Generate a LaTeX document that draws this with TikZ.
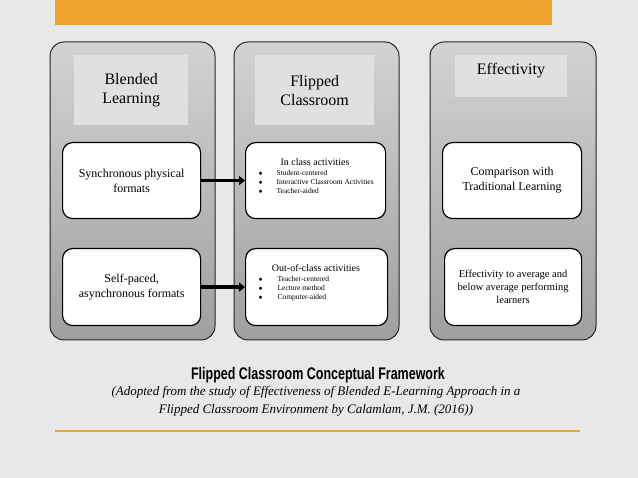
\documentclass[tikz,border=0pt]{standalone}
\usepackage{fontspec}
\setmainfont{Liberation Serif}
\newfontfamily\titlefont{Liberation Sans}
\newfontfamily\serfont{Liberation Serif}
\usetikzlibrary{arrows.meta}
\definecolor{orng}{HTML}{F0A22E}
\definecolor{bgc}{HTML}{E8E8E8}
\tikzset{
 col/.style={draw=black!85,line width=1pt,rounded corners=14pt,top color=gray!35,bottom color=gray!75,inner sep=0},
 hdr/.style={fill=black!12,draw=none,inner sep=0,align=center,font=\serfont\fontsize{16}{19}\selectfont},
 wbox/.style={draw=black,line width=1.2pt,fill=white,rounded corners=10pt,align=center,inner sep=0},
 arr/.style={-{Triangle[length=6pt,width=9pt]},line width=3.5pt,shorten >=0pt}
}
\begin{document}
\begin{tikzpicture}[x=1pt,y=-1pt]
\useasboundingbox (0,0) rectangle (638,478);
\fill[bgc] (0,0) rectangle (638,478);
\fill[orng] (55,0) rectangle (552,25);
% columns
\draw[col] (50,42) rectangle (215,340);
\draw[col] (234,42) rectangle (399,340);
\draw[col] (430,42) rectangle (596,340);
% headers
\node[hdr,minimum width=114pt,minimum height=70pt,anchor=north west] (h1) at (74,55) {Blended\\Learning};
\node[hdr,minimum width=119pt,minimum height=70pt,anchor=north west] (h2) at (255,55) {Flipped\\Classroom};
\node[hdr,minimum width=112pt,minimum height=42pt,anchor=north west] (h3) at (455,55) {};
\node[font=\serfont\fontsize{16}{19}\selectfont,anchor=north] (h3t) at (511,60) {Effectivity};
% boxes
\node[wbox,minimum width=138pt,minimum height=76pt,anchor=north west,font=\serfont\fontsize{12}{15}\selectfont] (b1) at (62,142) {Synchronous physical\\formats};
\node[wbox,minimum width=138pt,minimum height=77pt,anchor=north west,font=\serfont\fontsize{12}{15}\selectfont] (b2) at (62,248) {Self-paced,\\asynchronous formats};
\node[wbox,minimum width=140pt,minimum height=76pt,anchor=north west] (c1) at (245,142) {};
\node[wbox,minimum width=142pt,minimum height=77pt,anchor=north west] (c2) at (245,248) {};
\node[wbox,minimum width=139pt,minimum height=76pt,anchor=north west,font=\serfont\fontsize{12}{15}\selectfont] (d1) at (442,142) {Comparison with\\Traditional Learning};
\node[wbox,minimum width=137pt,minimum height=77pt,anchor=north west,font=\serfont\fontsize{10.5}{13}\selectfont] (d2) at (444,248) {Effectivity to average and\\below average performing\\learners};
% inner texts
\node[font=\serfont\fontsize{10}{11}\selectfont] (c1t) at (315,162) {In class activities};
\node[font=\serfont\fontsize{7.5}{8.7}\selectfont,align=left,anchor=north west] (c1l) at (255,167) {$\bullet$\hspace{14pt}Student-centered\\$\bullet$\hspace{14pt}Interactive Classroom Activities\\$\bullet$\hspace{14pt}Teacher-aided};
\node[font=\serfont\fontsize{10}{11}\selectfont] (c2t) at (316,268) {Out-of-class activities};
\node[font=\serfont\fontsize{7.5}{8.7}\selectfont,align=left,anchor=north west] (c2l) at (255,273) {$\bullet$\hspace{15pt}Teacher-centered\\$\bullet$\hspace{15pt}Lecture method\\$\bullet$\hspace{15pt}Computer-aided};
% arrows
\draw[arr] (b1.east) -- (c1.west);
\draw[arr] (b2.east) -- (c2.west);
% title
\node[font=\titlefont\bfseries\fontsize{16}{18}\selectfont] (title) at (318,375) {\scalebox{0.78}[1.05]{Flipped Classroom Conceptual Framework}};
\node[font=\serfont\itshape\fontsize{13}{18}\selectfont,align=center,anchor=north] (sub) at (316,383) {(Adopted from the study of Effectiveness of Blended E-Learning Approach in a\\Flipped Classroom Environment by Calamlam, J.M. (2016))};
\draw[orng,line width=1.5pt] (55,431) -- (580,431);
\end{tikzpicture}
\end{document}
